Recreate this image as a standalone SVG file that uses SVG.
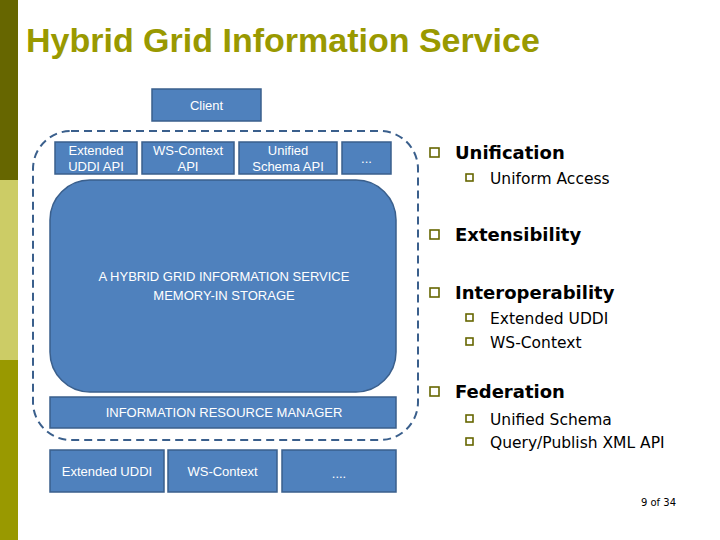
<svg xmlns="http://www.w3.org/2000/svg" width="720" height="540" viewBox="0 0 720 540">
<style>
.b{fill:#4f81bd;stroke:#3a5f8c;stroke-width:1.5}
.t{font-family:"Liberation Sans",Arial,sans-serif;fill:#fff;font-size:13px;text-anchor:middle}
.h{font-family:"DejaVu Sans",Verdana,sans-serif;font-weight:bold;font-size:18px;fill:#000}
.s{font-family:"DejaVu Sans",Verdana,sans-serif;font-size:15.5px;fill:#000}
.q{fill:none;stroke:#666600;stroke-width:1.6}
</style>
<rect width="720" height="540" fill="#fff"/>
<rect x="0" y="0" width="18" height="180" fill="#666600"/>
<rect x="0" y="180" width="18" height="180" fill="#cccc66"/>
<rect x="0" y="360" width="18" height="180" fill="#999900"/>
<text x="26" y="52" font-family="Liberation Sans,Arial,sans-serif" font-weight="bold" font-size="34" fill="#999900">Hybrid Grid Information Service</text>
<g id="connectors"><rect x="33" y="131" width="385" height="309" rx="38" fill="none" stroke="#3a5f8c" stroke-width="2" stroke-dasharray="8,5"/></g>
<g id="client"><rect class="b" x="152" y="89" width="109" height="32"/><text class="t" x="206.5" y="110" font-size="14">Client</text></g>
<g id="api1"><rect class="b" x="55" y="142" width="82" height="32"/><text class="t" x="96" y="155">Extended</text><text class="t" x="96" y="171">UDDI  API</text></g>
<g id="api2"><rect class="b" x="142" y="142" width="92" height="32"/><text class="t" x="188" y="155">WS-Context</text><text class="t" x="188" y="171">API</text></g>
<g id="api3"><rect class="b" x="239" y="142" width="98" height="32"/><text class="t" x="288" y="155">Unified</text><text class="t" x="288" y="171">Schema API</text></g>
<g id="api4"><rect class="b" x="342" y="142" width="49" height="32"/><text class="t" x="366.5" y="163">...</text></g>
<g id="storage"><rect class="b" x="50" y="180" width="346" height="212" rx="40"/><text class="t" x="224" y="281">A HYBRID GRID INFORMATION SERVICE</text><text class="t" x="224" y="300">MEMORY-IN STORAGE</text></g>
<g id="irm"><rect class="b" x="50" y="397" width="346" height="31"/><text class="t" x="224" y="417">INFORMATION RESOURCE MANAGER</text></g>
<g id="b1"><rect class="b" x="50" y="450" width="114" height="42"/><text class="t" x="107" y="476" font-size="12">Extended UDDI</text></g>
<g id="b2"><rect class="b" x="168" y="450" width="109" height="42"/><text class="t" x="222.5" y="476" font-size="12">WS-Context</text></g>
<g id="b3"><rect class="b" x="282" y="450" width="114" height="42"/><text class="t" x="339" y="478" font-size="12">....</text></g>
<g id="bullets">
<rect class="q" x="430" y="148" width="9" height="9"/><text class="h" x="455" y="159">Unification</text>
<rect class="q" x="466" y="174" width="7" height="7"/><text class="s" x="490" y="184">Uniform Access</text>
<rect class="q" x="430" y="230" width="9" height="9"/><text class="h" x="455" y="241">Extensibility</text>
<rect class="q" x="430" y="288" width="9" height="9"/><text class="h" x="455" y="299">Interoperability</text>
<rect class="q" x="466" y="314" width="7" height="7"/><text class="s" x="490" y="324">Extended UDDI</text>
<rect class="q" x="466" y="338" width="7" height="7"/><text class="s" x="490" y="348">WS-Context</text>
<rect class="q" x="430" y="387" width="9" height="9"/><text class="h" x="455" y="398">Federation</text>
<rect class="q" x="466" y="415" width="7" height="7"/><text class="s" x="490" y="425">Unified Schema</text>
<rect class="q" x="466" y="438" width="7" height="7"/><text class="s" x="490" y="448">Query/Publish XML API</text>
</g>
<text x="676" y="506" text-anchor="end" font-family="DejaVu Sans,Verdana,sans-serif" font-size="10" fill="#000">9 of 34</text>
</svg>
